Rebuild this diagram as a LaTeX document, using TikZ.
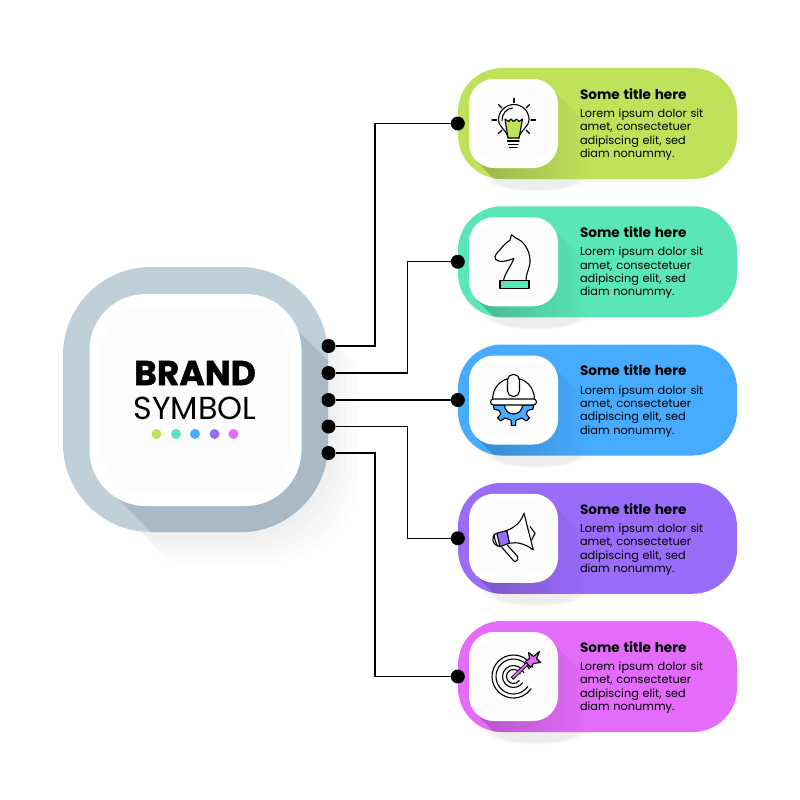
\documentclass[tikz,border=0pt]{standalone}
\usepackage{fontspec}
\usepackage{tikz}
\usetikzlibrary{fadings, backgrounds}
\setmainfont{Poppins}
\newfontfamily\brandfont[FakeBold=1.2]{Poppins Bold}

\definecolor{lampcol}{HTML}{BFE25B}
\definecolor{horsecol}{HTML}{5BE6B9}
\definecolor{helmcol}{HTML}{47ACFF}
\definecolor{horncol}{HTML}{9A6CFA}
\definecolor{goalcol}{HTML}{E46CFA}
\definecolor{halocol}{HTML}{C0D0DB}
\definecolor{halodark}{HTML}{A9BAC6}
\definecolor{facegrey}{HTML}{FCFCFC}

\tikzfading[name=longfade, left color=transparent!0, middle color=transparent!0, right color=transparent!100]

\tikzset{
    pill/.style={rectangle, rounded corners=44pt, minimum width=279pt, minimum height=111pt, inner sep=0pt, fill=#1},
    card/.style={rectangle, rounded corners=25pt, minimum size=89pt, inner sep=0pt, fill=white,
        path picture={\fill[facegrey, rounded corners=20pt] ([shift={(-38,-38)}]path picture bounding box.center) rectangle ([shift={(38,36)}]path picture bounding box.center);}},
    blob/.style={circle, fill=black, minimum size=14pt, inner sep=0pt},
    spot/.style={circle, fill=#1, minimum size=10pt, inner sep=0pt},
    wire/.style={black, line width=1.2pt},
    blurb/.style={text width=130pt, align=left, inner sep=0pt, yshift=-1pt, font=\fontsize{11.3}{13.3}\selectfont},
    icon/.style={black, line width=1.1pt, line cap=round, line join=round},
    haze/.style={black, opacity=.012, rounded corners=88pt}
}

\newcommand{\blurbtext}{{\fontsize{13.6}{13.3}\selectfont\bfseries Some title here}\\[5pt]Lorem ipsum dolor sit\\amet, consectetuer\\adipiscing elit, sed\\diam nonummy.}

% long shadow of a card on its pill, and the faint one under the pill
\newcommand{\pillshade}[1]{
    \begin{scope}
        \clip[rounded corners=44pt] (#1.north west) rectangle (#1.south east);
        \fill[black, opacity=.2, path fading=longfade] ([shift={(-121,38)}]#1.center) -- ([shift={(-47.5,-36.5)}]#1.center) -- ([shift={(-8,3)}]#1.center) -- ([shift={(-8,60)}]#1.center) -- ([shift={(-99,60)}]#1.center) -- cycle;
    \end{scope}
    \begin{scope}[on background layer]
        \fill[black, opacity=.07, path fading=circle with fuzzy edge 20 percent] ([shift={(-62,54)}]#1.center) ellipse (52 and 14);
    \end{scope}
}

\begin{document}
\begin{tikzpicture}[x=1pt, y=-1pt, node distance=138.25pt]
    \useasboundingbox (0,0) rectangle (800,800);
    % brand block
    \begin{scope}
        \clip (140,530) -- (330,340) -- (420,420) -- (420,600) -- (200,600) -- cycle;
        \fill[haze] (69,273) rectangle (334,538);
        \fill[haze] (75,279) rectangle (340,544);
        \fill[haze] (81,285) rectangle (346,550);
        \fill[haze] (87,291) rectangle (352,556);
        \fill[haze] (93,297) rectangle (358,562);
    \end{scope}
    \node (halo) at (195.5,399.5) [rectangle, rounded corners=88pt, minimum size=265pt, inner sep=0pt, fill=halocol] {};
    \begin{scope}
        \clip[rounded corners=88pt] (halo.north west) rectangle (halo.south east);
        \fill[halodark] (285,318) -- (420,453) -- (249,630) -- (105,486) -- cycle;
    \end{scope}
    \node (face) at (195.5,400) [rectangle, rounded corners=56pt, minimum size=212pt, inner sep=0pt, fill=white] {};
    \node (inner) at (195.5,400) [rectangle, rounded corners=46pt, minimum size=188pt, inner sep=0pt, fill=facegrey] {};
    \node (brand) at (195,373) [inner sep=0pt, font=\fontsize{34.5}{35}\brandfont] {BRAND};
    \node (symbol) at (195,408) [inner sep=0pt, font=\fontsize{31.8}{32}\selectfont] {SYMBOL};
    \node (s3) at (195,434) [spot=helmcol] {};
    \node (s2) at (176,434) [spot=horsecol] {};
    \node (s1) at (156.5,434) [spot=lampcol] {};
    \node (s4) at (214.5,434) [spot=horncol] {};
    \node (s5) at (233.5,434) [spot=goalcol] {};

    % the five pills
    \node (Plamp) at (597.5,123.5) [pill=lampcol] {};
    \node (Phorse) [pill=horsecol, below of=Plamp] {};
    \node (Phelm)  [pill=helmcol, below of=Phorse] {};
    \node (Phorn)  [pill=horncol, below of=Phelm] {};
    \node (Pgoal)  [pill=goalcol, below of=Phorn] {};
    \pillshade{Plamp}
    \pillshade{Phorse}
    \pillshade{Phelm}
    \pillshade{Phorn}
    \pillshade{Pgoal}
    \node (Clamp)  [card, left of=Plamp, node distance=84pt] {};
    \node (Chorse) [card, left of=Phorse, node distance=84pt] {};
    \node (Chelm)  [card, left of=Phelm, node distance=84pt] {};
    \node (Chorn)  [card, left of=Phorn, node distance=84pt] {};
    \node (Cgoal)  [card, left of=Pgoal, node distance=84pt] {};
    \node (Tlamp)  [blurb, right of=Clamp, node distance=131.5pt] {\blurbtext};
    \node (Thorse) [blurb, right of=Chorse, node distance=131.5pt] {\blurbtext};
    \node (Thelm)  [blurb, right of=Chelm, node distance=131.5pt] {\blurbtext};
    \node (Thorn)  [blurb, right of=Chorn, node distance=131.5pt] {\blurbtext};
    \node (Tgoal)  [blurb, right of=Cgoal, node distance=131.5pt] {\blurbtext};

    % connectors
    \node (Slamp)  at (328.5,346) [blob] {};
    \node (Shorse) at (328.5,373) [blob] {};
    \node (Shelm)  at (328.5,400) [blob] {};
    \node (Shorn)  at (328.5,426.5) [blob] {};
    \node (Sgoal)  at (328.5,453) [blob] {};
    \node (Dlamp)  at (Plamp.west) [blob] {};
    \node (Dhorse) at (Phorse.west) [blob] {};
    \node (Dhelm)  at (Phelm.west) [blob] {};
    \node (Dhorn)  at (Phorn.west) [blob] {};
    \node (Dgoal)  at (Pgoal.west) [blob] {};
    \coordinate (Blamp)  at (375,123.5);
    \coordinate (Bhorse) at (407.5,261.75);
    \coordinate (Bhorn)  at (407.5,538.25);
    \coordinate (Bgoal)  at (375,676.5);
    \draw[wire] (Slamp)  -| (Blamp)  -- (Dlamp);
    \draw[wire] (Shorse) -| (Bhorse) -- (Dhorse);
    \draw[wire] (Shelm)  -- (Dhelm);
    \draw[wire] (Shorn)  -| (Bhorn)  -- (Dhorn);
    \draw[wire] (Sgoal)  -| (Bgoal)  -- (Dgoal);

    % bulb
    \begin{scope}[shift={(Clamp)}, icon]
        \fill[lampcol] (-8.5,-4.5) -- (-5,-2) -- (-2.5,-4.5) -- (0,-2) -- (3,-4.5) -- (5.5,-2) -- (9,-4.5) -- (5.5,14.5) -- (-5.5,14.5) -- cycle;
        \draw (-8.5,-4.5) -- (-5,-2) -- (-2.5,-4.5) -- (0,-2) -- (3,-4.5) -- (5.5,-2) -- (9,-4.5) -- (5.5,14.5) -- (-5.5,14.5) -- cycle;
        \draw (-5.5,14.5) .. controls (-6,7) and (-15,4) .. (-15,-4) .. controls (-15,-12) and (-8,-19) .. (0.5,-19) .. controls (9,-19) and (15.5,-12) .. (15.5,-4) .. controls (15.5,4) and (6,7) .. (5.5,14.5);
        \draw (-11.5,-3) .. controls (-11.5,-10) and (-7,-15) .. (-1,-15.5);
        \draw (-6,17.5) -- (5.5,17.5);
        \draw (-5,21) -- (4.5,21);
        \draw (-4,24) -- (3.5,24);
        \draw (0.5,-25) -- (0.5,-21);
        \draw (-21.5,-3.5) -- (-17,-3.5);
        \draw (17.5,-3.5) -- (22,-3.5);
        \draw (-15,-19) -- (-11.5,-15.5);
        \draw (16,-19) -- (12.5,-15.5);
        \draw (-15,10) -- (-11.5,6.5);
        \draw (16,10) -- (12.5,6.5);
    \end{scope}
    % knight
    \begin{scope}[shift={(Chorse)}, icon]
        \draw[fill=horsecol] (-13.5,19) rectangle (15.5,26.5);
        \draw (-10,19) .. controls (-9,12) and (-3,5) .. (0.5,-3.3) .. controls (-3,-2) and (-6,-1) .. (-9,-.5) .. controls (-13,0.5) and (-19,-1) .. (-18.5,-5) .. controls (-18,-8) and (-14,-11) .. (-11,-15) .. controls (-9,-18) and (-6,-20) .. (-3.5,-21.5) -- (-2,-27) -- (2.5,-23.5) .. controls (10,-21) and (16,-12) .. (16.5,-2) .. controls (17,6) and (12,12) .. (12.5,19);
    \end{scope}
    % helmet and gear
    \begin{scope}[shift={(Chelm)}, icon]
        \begin{scope}[shift={(0,5)}]
            \draw[fill=helmcol] (0:20) -- (12:20) -- (20:15.5) -- (35:15.5) -- (39:20.5) -- (51:20.5) -- (57:15.5) -- (81:15.5) -- (84:20.5) -- (96:20.5) -- (99:15.5) -- (123:15.5) -- (129:20.5) -- (141:20.5) -- (145:15.5) -- (160:15.5) -- (168:20) -- (180:20) -- (180:9) arc (180:0:9) -- cycle;
        \end{scope}
        \draw[fill=white] (-21,0) .. controls (-21,-13) and (-12,-22) .. (0,-22) .. controls (12,-22) and (21,-13) .. (21,0) -- cycle;
        \draw[fill=white, rounded corners=3pt] (-23,-1) rectangle (23,5);
        \draw[fill=white, rounded corners=5.5pt] (-6,-25.5) rectangle (6,-3.5);
    \end{scope}
    % megaphone
    \begin{scope}[shift={(Chorn)}, icon]
        \draw (16.5,-11.7) -- (21.5,-5) -- (18.2,1.7);
        \draw[fill=white] (-6.8,-7.7) .. controls (2,-11) and (8,-17) .. (10.5,-25) -- (19.8,11.7) .. controls (11,5) and (3,3.5) .. (-4.2,5) -- cycle;
        \draw[fill=white, rounded corners=2pt] (-11.8,9) -- (1.5,24) -- (5.5,20) -- (-6.2,6.7);
        \draw[fill=horncol] (-16.8,-5) -- (-6.8,-7.7) -- (-4.2,5) -- (-13.5,8.3) -- cycle;
        \draw (-16.8,-5) .. controls (-23,-3) and (-22,7) .. (-13.5,8.3);
        \draw (-19.5,-3.8) .. controls (-19,0) and (-18,5) .. (-15.5,8);
    \end{scope}
    % target
    \begin{scope}[shift={(Cgoal)}, icon]
        \draw (-25:21.5) arc (-25:-325:21.5);
        \draw (-25:17.5) arc (-25:-325:17.5);
        \draw (-20:11) arc (-20:-325:11);
        \draw (-20:7) arc (-20:-325:7);
        \draw[line width=3.6pt, line cap=butt] (-1.5,2) -- (18,-17);
        \draw[goalcol, line width=2pt] (-0.5,1) -- (18,-17);
        \draw[fill=goalcol] (12,-15) -- (16,-18) -- (15,-24) -- (20,-20) -- (26,-25) -- (23,-18) -- (27,-14) -- (20,-13) -- (17,-9) -- cycle;
    \end{scope}
\end{tikzpicture}
\end{document}
